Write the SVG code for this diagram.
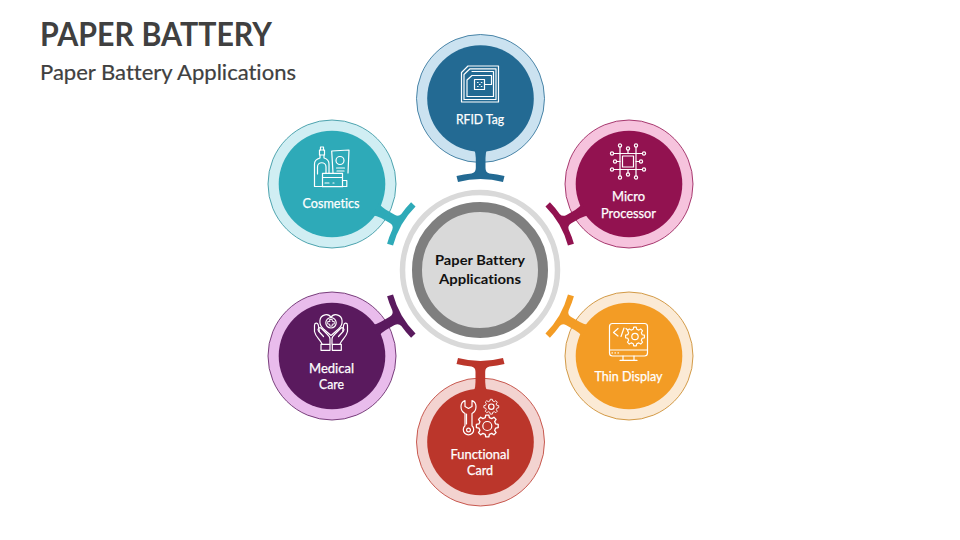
<svg xmlns="http://www.w3.org/2000/svg" xmlns:xlink="http://www.w3.org/1999/xlink" width="960" height="540" viewBox="0 0 960 540">
<style>
text{font-family:"Lato","Open Sans","Liberation Sans",sans-serif;text-anchor:middle;font-variant-ligatures:none}
.title{font-size:33px;font-weight:700;fill:#404040;text-anchor:start}
.sub{font-size:21px;fill:#404040;text-anchor:start;stroke:#404040;stroke-width:.2}
.lbl{font-size:13px;fill:#fff;stroke:#fff;stroke-width:.25}
.mid{font-size:14px;font-weight:700;fill:#111}
.ic{fill:none;stroke:#fff;stroke-width:1.2;stroke-linejoin:round;stroke-linecap:round}
.ic .g{vector-effect:non-scaling-stroke}
</style>
<defs>
<path id="gear" d="M7.57-1.89L9.9-1.39L9.9 1.39L7.57 1.89L6.69 4.02L7.99 6.02L6.02 7.99L4.02 6.69L1.89 7.57L1.39 9.9L-1.39 9.9L-1.89 7.57L-4.02 6.69L-6.02 7.99L-7.99 6.02L-6.69 4.02L-7.57 1.89L-9.9 1.39L-9.9-1.39L-7.57-1.89L-6.69-4.02L-7.99-6.02L-6.02-7.99L-4.02-6.69L-1.89-7.57L-1.39-9.9L1.39-9.9L1.89-7.57L4.02-6.69L6.02-7.99L7.99-6.02L6.69-4.02Z"/>
<path id="conn" d="M474 149Q475.800 153 475.800 158L475.800 168Q475.800 172.600 471.500 173.400A97 97 0 0 0 456.500 176L458 182A91 91 0 0 1 480.500 179A91 91 0 0 1 503 182L504.500 176A97 97 0 0 0 489.500 173.400Q485.500 172.600 485.500 168L485.500 158Q485.500 153 487 149Z"/>
<g id="pins"><path d="M-8-8V-14.500M0-8V-11.500M8-8V-14.500"/><circle cx="-8" cy="-16" r="1.600"/><circle cx="0" cy="-13" r="1.600"/><circle cx="8" cy="-16" r="1.600"/></g>
</defs>

<text class="title" x="40" y="46" textLength="232" lengthAdjust="spacingAndGlyphs">PAPER BATTERY</text>
<text class="sub" x="40" y="80" textLength="256" lengthAdjust="spacingAndGlyphs">Paper Battery Applications</text>

<g id="node-center">
<circle cx="480" cy="270" r="77.500" fill="#fff" stroke="#d9d9d9" stroke-width="5.500"/>
<circle cx="480" cy="270" r="63" fill="#d9d9d9" stroke="#7f7f7f" stroke-width="10"/>
<text class="mid" x="480" y="265" textLength="90" lengthAdjust="spacingAndGlyphs">Paper Battery</text>
<text class="mid" x="480" y="284" textLength="82" lengthAdjust="spacingAndGlyphs">Applications</text>
</g>

<g id="node-rfid">
<circle cx="480.500" cy="98.500" r="64" fill="#cbe2f0" stroke="#236a93" stroke-width="0.800"/>
<circle cx="480.500" cy="98.500" r="53.300" fill="#236a93"/>
<g class="ic"><path d="M468 66H498.500V102H461.500V72.500Z"/><path d="M470 68.800H496V99.500H464V74.500Z"/><path d="M484.500 84.500H491.500V75.500H472L467 80V96.500H493.500V71.500H472"/><rect x="474.500" y="79.500" width="10" height="10"/><path d="M477.500 82.500h.6M481.300 82.500h.6M477.500 86.500h.6M481.300 86.500h.6M479.500 84.500h.6"/></g>
<text class="lbl" x="480" y="124" textLength="48" lengthAdjust="spacingAndGlyphs">RFID Tag</text>
</g>

<g id="node-micro">
<circle cx="629" cy="184" r="64" fill="#f6c3dd" stroke="#921250" stroke-width="0.800"/>
<circle cx="629" cy="184" r="53.300" fill="#921250"/>
<g class="ic" transform="translate(628 161.500)"><rect x="-8" y="-8" width="16" height="16"/><rect x="-5.500" y="-5.500" width="11" height="11"/><use xlink:href="#pins"/><use xlink:href="#pins" transform="rotate(90)"/><use xlink:href="#pins" transform="rotate(180)"/><use xlink:href="#pins" transform="rotate(270)"/></g>
<text class="lbl" x="628.500" y="201" textLength="33" lengthAdjust="spacingAndGlyphs">Micro</text>
<text class="lbl" x="628.500" y="217.500" textLength="55" lengthAdjust="spacingAndGlyphs">Processor</text>
</g>

<g id="node-display">
<circle cx="629" cy="356" r="64" fill="#fbead5" stroke="#c8841f" stroke-width="0.800"/>
<circle cx="629" cy="356" r="53.300" fill="#f39c25"/>
<g class="ic"><path d="M609.500 326.500A3 3 0 0 1 612.500 323.500H644.500A3 3 0 0 1 647.500 326.500V353A3 3 0 0 1 644.500 356H612.500A3 3 0 0 1 609.500 353Z"/><path d="M609.500 350H647.500M612 352.900h.4M615 352.900h.4M618 352.900h.4M623 356V360.200M634 356V360.200M620 360.400H637"/><path d="M618 328.500L613.500 332.500L618 336M621 336.500L624 328M626 328.500L630.500 332.500L626 336"/><g transform="translate(635 336.500) scale(.95)" fill="#f39c25"><use xlink:href="#gear" class="g"/></g><circle cx="635" cy="336.500" r="3.200"/></g>
<text class="lbl" x="628.500" y="380.500" textLength="68" lengthAdjust="spacingAndGlyphs">Thin Display</text>
</g>

<g id="node-card">
<circle cx="480.500" cy="442" r="64" fill="#f3d3d0" stroke="#bb362b" stroke-width="0.800"/>
<circle cx="480.500" cy="442" r="53.300" fill="#bb362b"/>
<g class="ic"><path d="M465 400.500C461.500 402 461 404 461 406.500C461 410 463 412.500 465 413.500V425.800A5.200 5.200 0 1 0 472 425.800V413.500C474 412.500 476 410 476 406.500C476 404 475.500 402 472 400.500V406.500L468.500 408.500L465 406.500Z"/><circle cx="468.500" cy="430" r="1.900"/><path d="M466.500 414V424"/><g transform="translate(491.300 406.700) scale(.75)"><use xlink:href="#gear" class="g"/></g><circle cx="491.300" cy="406.700" r="2.700"/><g transform="translate(487.300 426) scale(1.100)"><use xlink:href="#gear" class="g"/></g><circle cx="487.300" cy="426" r="4.500"/></g>
<text class="lbl" x="480" y="458.500" textLength="59" lengthAdjust="spacingAndGlyphs">Functional</text>
<text class="lbl" x="480" y="475" textLength="26" lengthAdjust="spacingAndGlyphs">Card</text>
</g>

<g id="node-medical">
<circle cx="332" cy="356" r="64" fill="#e9bcec" stroke="#5a1a5e" stroke-width="0.800"/>
<circle cx="332" cy="356" r="53.300" fill="#5a1a5e"/>
<g class="ic"><path d="M331 335.500L323.500 329C318 324 319 316 325 314.800C328 314.200 330 315.500 331 317.500C332 315.500 334 314.200 337 314.800C343 316 344 324 338.500 329Z"/><circle cx="331" cy="322.800" r="5.200"/><path d="M329.700 319.500H332.300V321.500H334.300V324.100H332.300V326.100H329.700V324.100H327.700V321.500H329.700Z" stroke-width=".9"/><path d="M322 344C320 339 315.500 337 314.500 331.500V325.500C314.500 322.500 317.500 322.500 318.300 325L319.300 331"/><path d="M330 344V339C330 336 327.500 334.500 325 332L321.500 328.500C319.500 326.500 317 329 318.500 331L323.500 336.500"/><path d="M340 344C342 339 346.500 337 347.500 331.500V325.500C347.500 322.500 344.500 322.500 343.700 325L342.700 331"/><path d="M332 344V339C332 336 334.500 334.500 337 332L340.500 328.500C342.500 326.500 345 329 343.500 331L338.500 336.500"/><rect x="321" y="344.300" width="9" height="6"/><rect x="332.300" y="344.300" width="9" height="6"/></g>
<text class="lbl" x="331.500" y="372.500" textLength="45" lengthAdjust="spacingAndGlyphs">Medical</text>
<text class="lbl" x="331.500" y="389" textLength="25" lengthAdjust="spacingAndGlyphs">Care</text>
</g>

<g id="node-cosmetics">
<circle cx="332" cy="184" r="64" fill="#d0eef3" stroke="#2a8f9c" stroke-width="0.800"/>
<circle cx="332" cy="184" r="53.300" fill="#2eaab8"/>
<g class="ic"><path d="M333 173L331.700 151L349 150L348 173"/><circle cx="340" cy="160.500" r="4"/><path d="M336.500 168H344.500M337 171H344"/><rect x="319.500" y="150" width="5" height="5"/><path d="M320.500 150V147H323.500V150"/><path d="M320 155V158C316.500 159 314.500 161 314.500 164V186.500H322.500M324 155V158C327.500 159 329 161 329 164V173"/><path d="M317.500 174V167A4.200 4.200 0 0 1 326 167V173"/><rect x="322.500" y="173.300" width="20" height="13.400"/><path d="M322.500 177.500H342.500M325 183H329M333 183H334"/><path d="M342.500 180.500H346.800V186.500H342.500"/></g>
<text class="lbl" x="331" y="207.500" textLength="57" lengthAdjust="spacingAndGlyphs">Cosmetics</text>
</g>

<g id="connectors">
<use xlink:href="#conn" fill="#236a93"/>
<use xlink:href="#conn" fill="#921250" transform="rotate(60 480.500 270)"/>
<use xlink:href="#conn" fill="#f39c25" transform="rotate(120 480.500 270)"/>
<use xlink:href="#conn" fill="#bb362b" transform="rotate(180 480.500 270)"/>
<use xlink:href="#conn" fill="#5a1a5e" transform="rotate(240 480.500 270)"/>
<use xlink:href="#conn" fill="#2eaab8" transform="rotate(300 480.500 270)"/>
</g>
</svg>
